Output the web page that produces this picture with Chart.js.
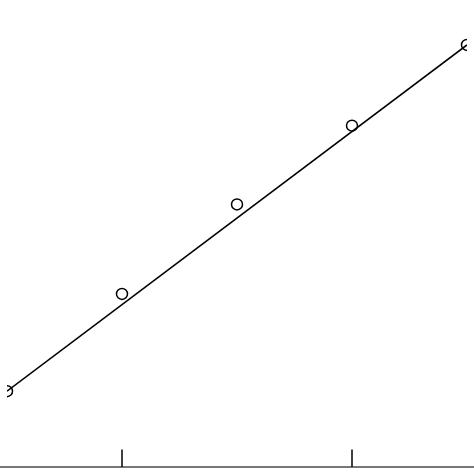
<!DOCTYPE html><html><head><script src="https://cdn.jsdelivr.net/npm/chart.js@4"></script>
<style>html,body{margin:0;padding:0;background:#fff}#w{width:474px;height:474px}</style></head><body><div id="w"><canvas id="c"></canvas></div><script>
const xValues=[0,1,2,3,4];
const yValues=[78,178,270,351,434];
const fitX=[0,4];
const fitY=[78,434];
const tickValues=[1,3];
const tickPlugin={id:'tk',afterDraw(ch){const x=ch.scales.x,y=ch.scales.y,c=ch.ctx;c.save();c.strokeStyle='#777';c.lineWidth=2;c.beginPath();c.moveTo(0,y.getPixelForValue(0));c.lineTo(474,y.getPixelForValue(0));c.stroke();c.strokeStyle='#000';c.lineWidth=1.5;tickValues.forEach(v=>{const p=x.getPixelForValue(v);c.beginPath();c.moveTo(p,y.getPixelForValue(0));c.lineTo(p,y.getPixelForValue(18));c.stroke();});c.restore();}};
new Chart(document.getElementById('c'),{type:'scatter',data:{datasets:[
{data:xValues.map((x,i)=>({x,y:yValues[i]})),showLine:false,pointStyle:'circle',pointRadius:5.5,pointBorderWidth:1.5,pointBorderColor:'#000',pointBackgroundColor:'rgba(0,0,0,0)'},
{data:fitX.map((x,i)=>({x,y:fitY[i]})),showLine:true,borderColor:'#000',borderWidth:1.6,pointRadius:0}]},
options:{animation:false,responsive:true,maintainAspectRatio:false,layout:{padding:{left:0,right:2,top:0,bottom:1}},plugins:{legend:{display:false},tooltip:{enabled:false}},
scales:{x:{type:'linear',min:0,max:4,display:false},y:{type:'linear',min:0,max:473,display:false}}},plugins:[tickPlugin]});
</script></body></html>
